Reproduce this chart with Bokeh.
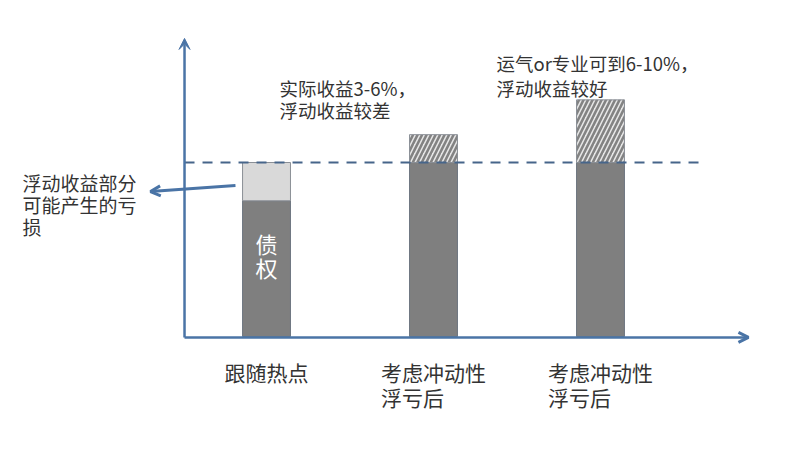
from bokeh.plotting import figure
from bokeh.models import Range1d, Arrow, VeeHead, OpenHead
from bokeh.core.properties import value
from bokeh.embed import file_html
from bokeh.resources import INLINE

# ---- data ----
cat_line1 = ["跟随热点", "考虑冲动性", "考虑冲动性"]
cat_line2 = ["", "浮亏后", "浮亏后"]
base_values = [78, 100, 100]          # 债权 / 基础部分
top_values = [100, 116, 136]          # 含浮动收益的顶端
threshold = 100                        # 虚线水平
bar_inside_label = ["债", "权"]
note_left = ["浮动收益部分", "可能产生的亏", "损"]
note_mid = ["实际收益3-6%，", "浮动收益较差"]
note_right = ["运气or专业可到6-10%，", "浮动收益较好"]

xs = list(range(len(base_values)))
FONT = value("Noto Sans CJK SC")
TXT = "#333333"
AXIS = "#4a74a6"

p = figure(width=774, height=434, output_backend="svg", toolbar_location=None,
           x_range=Range1d(-1.593, 3.042), y_range=Range1d(-56.3, 193.1),
           min_border=0, outline_line_color=None)
p.axis.visible = False
p.grid.visible = False
p.background_fill_color = "white"

bw = 0.287
# base (dark) bars
p.vbar(x=xs, width=bw, bottom=0, top=base_values,
       fill_color="#7f7f7f", line_color="#6e7680", line_width=1)
# light segment for first bar (possible loss), hatched for others
p.vbar(x=xs[:1], width=bw, bottom=base_values[:1], top=top_values[:1],
       fill_color="#d9d9d9", line_color="#8a8f96", line_width=1)
p.vbar(x=xs[1:], width=bw, bottom=base_values[1:], top=top_values[1:],
       fill_color="#e8e8e8", line_color="#8a8f96", line_width=1,
       hatch_pattern="/", hatch_color="#838383", hatch_scale=9, hatch_weight=2.6)

# axes with arrows
ax_x0 = -0.491
p.add_layout(Arrow(end=VeeHead(size=11, fill_color=AXIS, line_color=AXIS),
                   x_start=ax_x0, y_start=-0.5, x_end=ax_x0, y_end=171.3,
                   line_color=AXIS, line_width=2.5))
p.add_layout(Arrow(end=OpenHead(size=10, line_color=AXIS, line_width=3),
                   x_start=ax_x0, y_start=-0.5, x_end=2.886, y_end=-0.5,
                   line_color=AXIS, line_width=2.5))

# dashed threshold line
p.line(x=[ax_x0, 2.61], y=[threshold, threshold], line_color="#46658a",
       line_width=2, line_dash="10 8")

# arrow from loss segment to note
p.add_layout(Arrow(end=OpenHead(size=10, line_color=AXIS, line_width=3),
                   x_start=-0.186, y_start=86.8, x_end=-0.695, y_end=83.3,
                   line_color=AXIS, line_width=3))

# category labels
fs_cat = 21
p.text(x=xs, y=[-20.1] * 3, text=cat_line1, text_align="center",
       text_baseline="middle", text_font=FONT, text_font_size=f"{fs_cat}px",
       text_color=TXT)
p.text(x=xs[1:], y=[-34.5] * 2, text=cat_line2[1:], text_align="left",
       text_baseline="middle", text_font=FONT, text_font_size=f"{fs_cat}px",
       text_color=TXT, x_offset=-2.5 * fs_cat)

# inside-bar label
p.text(x=[xs[0]] * 2, y=[54.0, 39.7], text=bar_inside_label, text_align="center",
       text_baseline="middle", text_font=FONT, text_font_size="22px",
       text_color="white")

# notes
p.text(x=[-1.461] * 3, y=[88.5, 75.9, 63.2], text=note_left, text_align="left",
       text_baseline="middle", text_font=FONT, text_font_size="19px", text_color=TXT)
p.text(x=[0.078] * 2, y=[143.1, 129.9], text=note_mid, text_align="left",
       text_baseline="middle", text_font=FONT, text_font_size="18.5px", text_color=TXT)
p.text(x=[1.377] * 2, y=[156.9, 143.1], text=note_right, text_align="left",
       text_baseline="middle", text_font=FONT, text_font_size="18.5px", text_color=TXT)

open("out.html", "w").write(file_html(p, INLINE))
